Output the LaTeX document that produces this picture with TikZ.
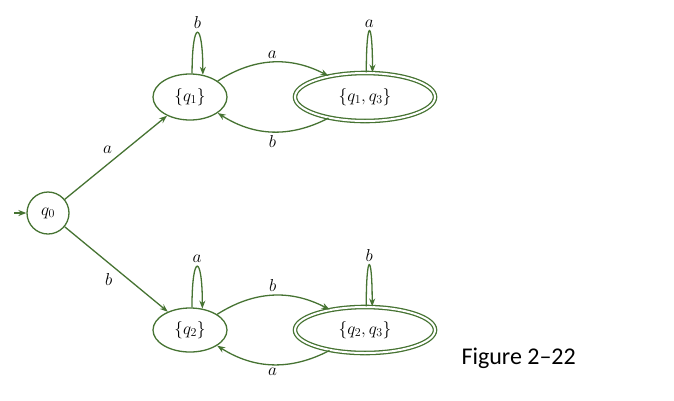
\documentclass[tikz,border=0pt]{standalone}
\usepackage{fontspec}
\newfontfamily\figfont{Carlito}
\usetikzlibrary{shapes.geometric,arrows.meta}
\definecolor{gr}{RGB}{70,115,50}
\tikzset{
  st/.style={draw=gr,line width=1.3pt,ellipse,inner sep=0pt},
  acc/.style={st,double=white,double distance=2pt},
  tr/.style={draw=gr,line width=1.3pt,-{Stealth[length=8pt,width=6pt]}},
  lb/.style={font=\fontsize{17}{19}\selectfont}
}
\begin{document}
\begin{tikzpicture}[x=1pt,y=-1pt]
\useasboundingbox (0,0) rectangle (674,400);
\node[st,circle,minimum size=42pt,lb] (q0) at (48,213) {$q_0$};
\node[st,minimum width=74pt,minimum height=46pt,lb] (q1) at (190,97) {$\{q_1\}$};
\node[acc,minimum width=140pt,minimum height=48pt,lb] (q13) at (365,97) {$\{q_1,q_3\}$};
\node[st,minimum width=74pt,minimum height=44pt,lb] (q2) at (190,330) {$\{q_2\}$};
\node[acc,minimum width=140pt,minimum height=46pt,lb] (q23) at (365,330) {$\{q_2,q_3\}$};
\coordinate (s) at (14,213);
\draw[tr] (s) -- (q0);
\draw[tr] (q0) -- node[lb,above left,pos=0.5] {$a$} (q1);
\draw[tr] (q0) -- node[lb,below left,pos=0.5] {$b$} (q2);
\draw[tr] (q1) to[bend left=30] node[lb,above] {$a$} (q13);
\draw[tr] (q13) to[bend left=30] node[lb,below] {$b$} (q1);
\draw[tr] (q2) to[bend left=30] node[lb,above] {$b$} (q23);
\draw[tr] (q23) to[bend left=30] node[lb,below] {$a$} (q2);
\draw[tr] (q1.85) .. controls +(0,-55) and +(0,-55) .. node[lb,above] {$b$} (q1.60);
\draw[tr] (q13.87) .. controls +(0,-55) and +(0,-55) .. node[lb,above] {$a$} (q13.73);
\draw[tr] (q2.85) .. controls +(0,-55) and +(0,-55) .. node[lb,above] {$a$} (q2.60);
\draw[tr] (q23.87) .. controls +(0,-55) and +(0,-55) .. node[lb,above] {$b$} (q23.73);
\node[font=\figfont\fontsize{24}{28}\selectfont,anchor=west] (cap) at (458,358) {Figure 2–22};
\end{tikzpicture}
\end{document}
